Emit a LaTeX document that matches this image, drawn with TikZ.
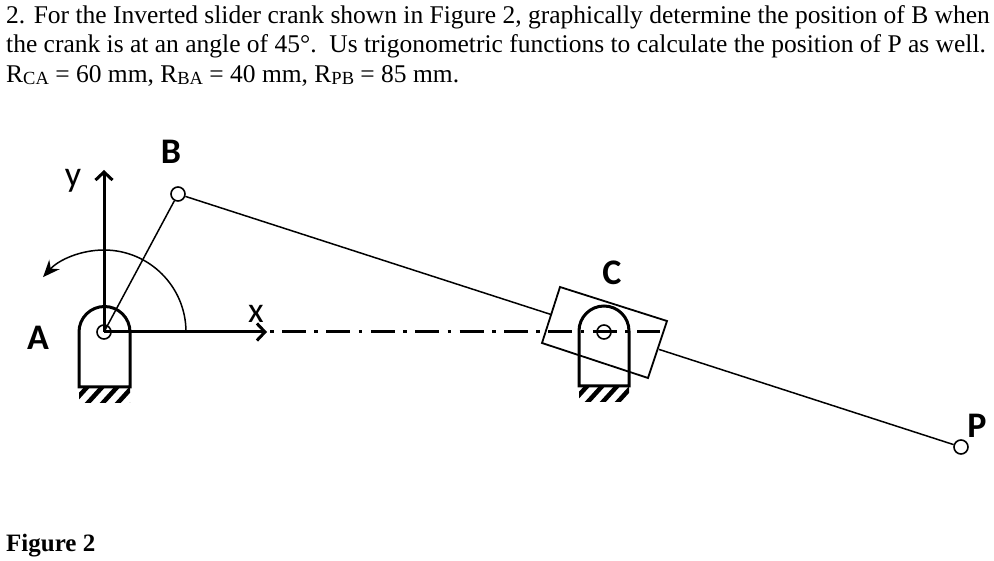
\documentclass[tikz,border=0pt]{standalone}
\usepackage{fontspec}
\setmainfont{Liberation Serif}
\newfontfamily\labfont{Carlito}
\usetikzlibrary{arrows.meta}
\tikzset{
  pinc/.style={draw=black,circle,inner sep=0pt,minimum size=14pt,line width=1.6pt},
  rod/.style={line width=1.5pt,black},
  frame/.style={line width=3pt,black},
  axis/.style={line width=3pt,black,-{Straight Barb[length=8pt,width=17pt,line width=3pt]}},
  hatch/.style={line width=4.5pt,black},
  para/.style={anchor=base west,inner sep=0pt,font=\fontsize{25.5}{30}\selectfont},
  figlab/.style={anchor=base west,inner sep=0pt,font=\fontsize{25}{30}\selectfont\bfseries},
  boldlab/.style={inner sep=0pt,font=\labfont\fontsize{36}{40}\selectfont\bfseries},
  axlab/.style={inner sep=0pt,font=\labfont\fontsize{36}{40}\selectfont},
}
\newcommand{\subsc}[1]{\raisebox{-1.5pt}{\fontsize{18.5}{20}\selectfont #1}}
\begin{document}
\begin{tikzpicture}[x=1pt,y=-1pt]
\useasboundingbox (0,0) rectangle (994,561);
\fill[white] (0,0) rectangle (994,561);
% text
\node[para] (t1) at (6,24) {2. For the Inverted slider crank shown in Figure 2, graphically determine the position of B when};
\node[para] (t2) at (6,53) {the crank is at an angle of 45°.\ \ Us trigonometric functions to calculate the position of P as well.};
\node[para] (t3) at (6,83) {R\subsc{CA} = 60 mm, R\subsc{BA} = 40 mm, R\subsc{PB} = 85 mm.};
\node[figlab] (fig) at (6,551) {Figure 2};
% pins
\node[pinc] (A) at (104,332) {};
\node[pinc] (B) at (178,194) {};
\node[pinc] (Cp) at (604,332) {};
\node[pinc] (P) at (961,447) {};
% labels
\node[boldlab] (lB) at (171,152) {B};
\node[boldlab] (lA) at (38,338) {A};
\node[boldlab] (lC) at (612,273) {C};
\node[boldlab] (lP) at (977,426) {P};
\node[axlab] (ly) at (73,181) {y};
\node[axlab] (lx) at (256,314) {x};
% supports
\draw[frame] (79,387) -- (79,332) arc[start angle=180,end angle=0,radius=25.5,y radius=-25.5] -- (130,387) -- cycle;
\draw[frame] (579,386) -- (579,331) arc[start angle=180,end angle=0,radius=25,y radius=-25] -- (629,386) -- cycle;
\begin{scope}
\clip (79,387) rectangle (130,403);
\foreach \i in {0,...,4} \draw[hatch] ({70+\i*15},406) -- ({90+\i*15},384);
\end{scope}
\begin{scope}
\clip (579,386) rectangle (629,402);
\foreach \i in {0,...,4} \draw[hatch] ({570+\i*15},405) -- ({590+\i*15},383);
\end{scope}
% axes
\coordinate (Ax) at (104,332);
\coordinate (yt) at (104,170);
\coordinate (xt) at (267,332);
\draw[axis] (Ax) -- (yt);
\draw[axis] (Ax) -- (xt);
% centre line
\coordinate (d1) at (270,332);
\coordinate (d2) at (660,332);
\draw[line width=3pt,dash pattern=on 3.5pt off 8.5pt on 24pt off 8.4pt] (d1) -- (d2);
% angle arrow
\draw[line width=1.5pt,-{Stealth[length=17pt,width=14pt]}] (186,332) arc[start angle=0,end angle=-138,radius=82];
% crank & rod
\coordinate (s1) at (551,314.5);
\coordinate (s2) at (659,349.4);
\draw[rod] (Ax) -- (B);
\draw[rod] (B) -- (s1);
\draw[rod] (s2) -- (P);
% slider
\draw[line width=1.8pt] (560,287) -- (667,321) -- (648,378) -- (542,343) -- cycle;
\end{tikzpicture}
\end{document}
